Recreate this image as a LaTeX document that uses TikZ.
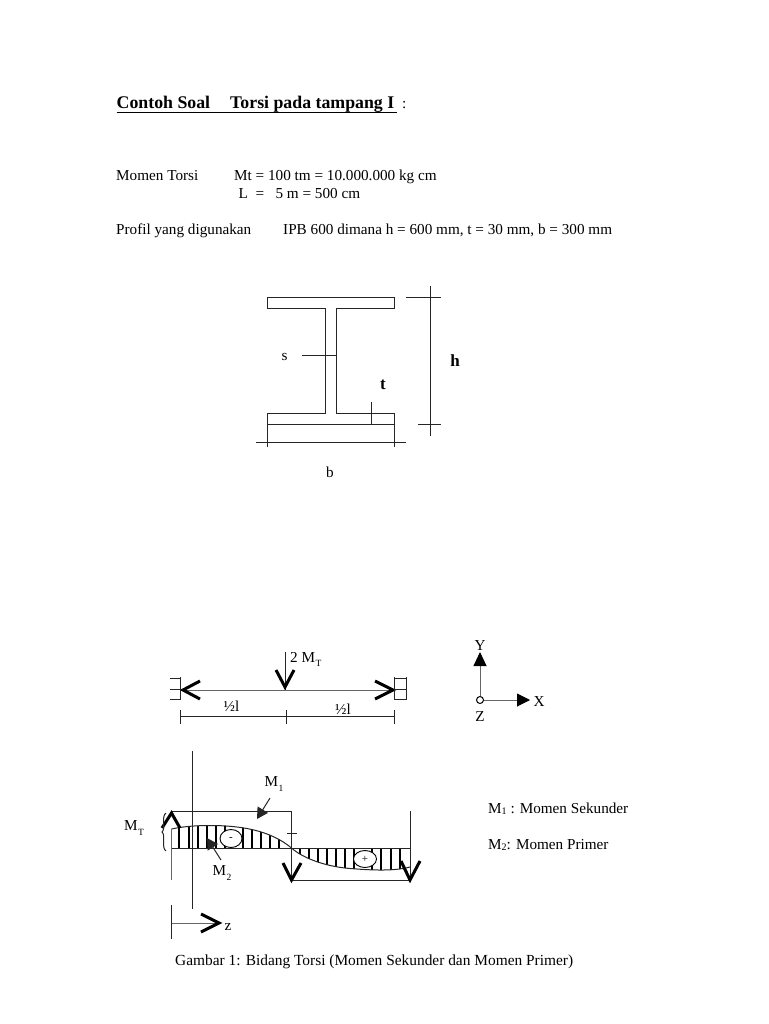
\documentclass[tikz,border=0pt]{standalone}
\usepackage{fontspec}
\setmainfont{Liberation Serif}
\usetikzlibrary{arrows.meta,shapes.geometric}
\tikzset{
  txt/.style={inner sep=0pt,anchor=base west,font=\fontsize{15.2}{18}\selectfont},
  lbl/.style={inner sep=0pt,anchor=center,font=\fontsize{15.2}{18}\selectfont},
  head/.style={inner sep=0pt,anchor=base west,font=\fontsize{17.8}{20}\selectfont\bfseries},
  thin line/.style={line width=1pt,draw=black!85},
  grey line/.style={line width=1pt,draw=black!60},
  chevron/.style={line width=3pt,line cap=butt,line join=miter},
  pointer/.style={line width=1pt,draw=black!85,-{Triangle[length=11pt,width=12pt]}},
}
\newcommand{\sub}[1]{\kern0.5pt\raisebox{-0.6ex}{\fontsize{9.5}{11}\selectfont #1}}
\newcommand{\legsub}[1]{\raisebox{-0.15ex}{\fontsize{10}{11}\selectfont #1}}
\begin{document}
\begin{tikzpicture}[x=1pt,y=-1pt]
  \useasboundingbox (0,0) rectangle (768,1024);

  % heading lines
  \node (title)  [head] at (116.5,109) {Contoh Soal};
  \node (title2) [head] at (230,109)   {Torsi pada tampang I};
  \node (colon)  [txt]  at (402,109)   {:};
  \coordinate (ula) at (116.5,112.5);
  \coordinate (ulb) at (397,112.5);
  \draw [line width=1.4pt] (ula) -- (ulb);
  \node (momen)  [txt] at (116,181) {Momen Torsi};
  \node (mt)     [txt] at (234,181) {Mt = 100 tm = 10.000.000 kg cm};
  \node (len)    [txt] at (238.5,199) {L\ \ =\ \ \ 5 m\ = 500 cm};
  \node (profil) [txt] at (116,234) {Profil yang digunakan};
  \node (ipb)    [txt] at (283,234) {IPB 600 dimana h = 600 mm, t = 30 mm, b = 300 mm};

  % I section
  \draw [thin line] (325,308.5) -- (267,308.5) -- (267,297) -- (394.5,297) -- (394.5,308.5) -- (336.5,308.5)
        -- (336.5,413.5) -- (394.5,413.5) -- (394.5,424.5) -- (267,424.5) -- (267,413.5) -- (325,413.5) -- cycle;
  \node (s) [lbl] at (284.5,357) {s};
  \node (t) [lbl,font=\fontsize{17}{20}\selectfont\bfseries] at (383,385) {t};
  \node (h) [lbl,font=\fontsize{17}{20}\selectfont\bfseries] at (455,361) {h};
  \node (b) [lbl] at (330,472)   {b};
  \coordinate (sa) at (302,355);
  \coordinate (sb) at (336.5,355);
  \coordinate (ta) at (371,402);
  \coordinate (tb) at (371,424.5);
  \draw [thin line] (sa) -- (sb);
  \draw [thin line] (ta) -- (tb);
  % dimension lines
  \draw [thin line] (430,286) -- (430,436);
  \draw [thin line] (406,297) -- (441,297);
  \draw [thin line] (418,424.5) -- (441,424.5);
  \draw [thin line] (256,442) -- (406,442);
  \draw [thin line] (267,424.5) -- (267,447);
  \draw [thin line] (394.5,424.5) -- (394.5,447);

  % beam
  \coordinate (beamL) at (183,690);
  \coordinate (beamM) at (285,690);
  \coordinate (beamR) at (393,690);
  \coordinate (loadtop) at (285,652);
  \draw [grey line] (beamL) -- (beamR);
  \draw [thin line] (loadtop) -- (beamM);
  \draw [chevron] (200,681) -- (beamL) -- (200,699);
  \draw [chevron] (375,681) -- (beamR) -- (375,699);
  \draw [chevron] (276,670) -- (285,687) -- (294,670);
  \node (load) [txt] at (290,662) {2 M\sub{T}};
  % supports
  \draw [thin line] (180,677) -- (180,700);
  \foreach \y in {678,689,699} \draw [thin line] (170,\y) -- (180,\y);
  \draw [thin line] (394.5,677) -- (394.5,700);
  \draw [thin line] (406,677) -- (406,700);
  \foreach \y in {678,689,699} \draw [thin line] (394.5,\y) -- (406,\y);
  % span dimension
  \draw [thin line] (180,716.5) -- (394,716.5);
  \foreach \x in {180,286,394} \draw [thin line] (\x,710) -- (\x,724);
  \node (halfA) [lbl] at (231.5,706) {½l};
  \node (halfB) [lbl] at (343,709)   {½l};

  % axes
  \node (o) [circle,draw,line width=1pt,minimum size=7pt,inner sep=0pt] at (480,700) {};
  \coordinate (ytip) at (480,652);
  \coordinate (xtip) at (530,700);
  \draw [grey line,-{Triangle[length=14pt,width=13pt,color=black]}] (o) -- (ytip);
  \draw [grey line,-{Triangle[length=13pt,width=13pt,color=black]}] (o) -- (xtip);
  \node (Y) [lbl] at (480,646) {Y};
  \node (X) [lbl] at (539,702) {X};
  \node (Z) [lbl] at (480,716.5) {Z};

  % legend
  \node (leg1) [txt] at (488,813) {M\legsub{1} : Momen Sekunder};
  \node (leg2) [txt] at (488,849) {M\legsub{2}: Momen Primer};

  % torsion diagram: hatching
  \begin{scope}
    \clip (171.5,829) .. controls (185,826) and (200,825.5) .. (210,825.5)
          .. controls (240,825.5) and (270,830) .. (291.5,848) -- (171.5,848) -- cycle;
    \foreach \x in {179,189,198,207,216,225,243,252,261,270,279}
      \draw [line width=1.2pt] (\x,820) -- (\x,850);
  \end{scope}
  \begin{scope}
    \clip (291.5,848) .. controls (305,860) and (330,867) .. (350,868.5)
          .. controls (375,870.5) and (395,871) .. (410,867) -- (410,848) -- cycle;
    \foreach \x in {300,309,318,327,336,345,354,372,381,391,400}
      \draw [line width=1.2pt] (\x,845) -- (\x,875);
  \end{scope}
  \draw [thin line] (171.5,829) .. controls (185,826) and (200,825.5) .. (210,825.5)
        .. controls (240,825.5) and (270,830) .. (291.5,848);
  \draw [thin line] (291.5,848) .. controls (305,860) and (330,867) .. (350,868.5)
        .. controls (375,870.5) and (395,871) .. (410,867);
  \draw [thin line] (171.5,848) -- (410,848);
  \node (minus) [ellipse,draw,fill=white,line width=0.9pt,minimum width=22pt,minimum height=18pt,inner sep=0pt,font=\fontsize{11}{12}\selectfont] at (231,838.5) {-};
  \node (plus) [ellipse,draw,fill=white,line width=0.9pt,minimum width=23pt,minimum height=17pt,inner sep=0pt,font=\fontsize{11}{12}\selectfont] at (365,859) {+};

  % frame lines and arrows of the diagram
  \draw [thin line] (192,751) -- (192,909);
  \draw [thin line] (171.5,813) -- (171.5,811.5) -- (291.5,811.5) -- (291.5,880.5) -- (410,880.5) -- (410,811);
  \draw [thin line] (287,833) -- (297,833);
  \draw [grey line] (171.5,829) -- (171.5,880);
  \draw [chevron] (162,828) -- (171.5,813) -- (180,828);
  \draw [chevron] (283,863) -- (291.5,880) -- (301,863);
  \draw [chevron] (401,861) -- (410,880) -- (420,861);
  \draw [thin line] (166,813) .. controls (161,816) and (166,829) .. (162,832)
        .. controls (166,835) and (161,848) .. (166,851);

  % labels with pointers
  \node (MT) [lbl] at (134,828) {M\sub{T}};
  \node (M1) [lbl] at (274,784) {M\sub{1}};
  \node (M2) [lbl] at (222,873) {M\sub{2}};
  \coordinate (M1tip) at (257,819);
  \coordinate (M1end) at (270,798);
  \coordinate (M2tip) at (207,838);
  \coordinate (M2end) at (221,860);
  \draw [pointer] (M1end) -- (M1tip);
  \draw [pointer] (M2end) -- (M2tip);

  % z direction
  \coordinate (ztip) at (219,923);
  \draw [thin line] (171.5,905) -- (171.5,939);
  \draw [grey line] (171.5,923) -- (ztip);
  \draw [chevron] (201,914) -- (ztip) -- (201,932);
  \node (z) [lbl] at (228,927) {z};

  \node (caption) [txt,font=\fontsize{15.4}{18}\selectfont] at (175,965) {Gambar 1: Bidang Torsi (Momen Sekunder dan Momen Primer)};
\end{tikzpicture}
\end{document}
